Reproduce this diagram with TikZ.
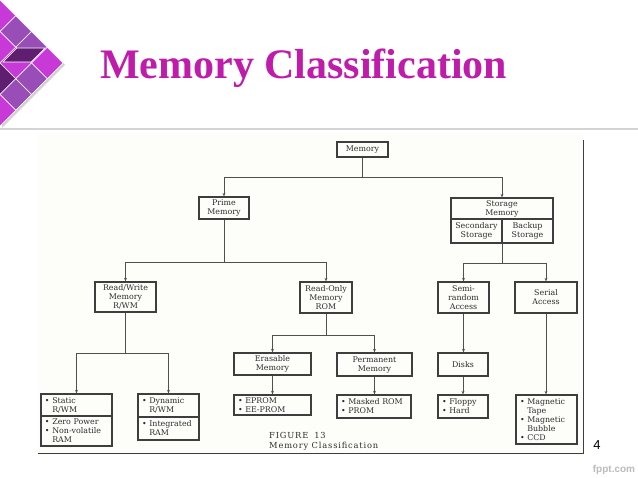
\documentclass[tikz,border=0pt]{standalone}
\usepackage{fontspec}
\setmainfont{DejaVu Serif}
\newfontfamily\titlefont{Liberation Serif}
\newfontfamily\sansf{Liberation Sans}
\usetikzlibrary{arrows.meta}
\definecolor{titlec}{RGB}{192,28,172}
\definecolor{magc}{RGB}{200,58,216}
\definecolor{medc}{RGB}{152,78,182}
\definecolor{darkc}{RGB}{96,30,112}
\definecolor{sepc}{RGB}{212,212,212}
\definecolor{scanbg}{RGB}{253,253,250}
\definecolor{boxc}{RGB}{62,62,62}
\definecolor{linec}{RGB}{80,80,80}
\definecolor{txtc}{RGB}{45,45,45}
\definecolor{fpptc}{RGB}{188,188,188}
\newcommand{\mybul}{\textbullet\ }
\newcommand{\myind}{\hphantom{\textbullet\ }}
\begin{document}
\begin{tikzpicture}[x=1pt,y=-1pt,
  box/.style={draw=boxc, line width=1.2pt, inner sep=0pt, align=center,
    font=\fontsize{7.9}{9}\selectfont, text=txtc},
  lbox/.style={box, align=left, inner xsep=4pt},
  conn/.style={draw=linec, line width=0.85pt},
  arr/.style={conn, -{Stealth[length=3.5pt,width=2.8pt]}},
  tile/.style={draw=white, line width=0.7pt}]
\useasboundingbox (0,0) rectangle (638,478);
\fill[white] (0,0) rectangle (638,478);
% decorative diamond
\fill[black!18] (2,2) -- (65,65) -- (2,128) -- cycle;
\foreach \i/\j/\c in {0/0/magc,1/0/medc,2/0/medc,3/0/magc,1/1/magc,2/1/magc,3/1/medc,2/2/darkc,3/2/medc,3/3/magc,0/1/magc,1/2/medc,2/3/darkc}{
  \filldraw[tile, fill=\c] ({15.75*(\i-\j)},{15.75*(\i+\j)}) -- ({15.75*(\i+1-\j)},{15.75*(\i+1+\j)})
    -- ({15.75*(\i-\j)},{15.75*(\i+2+\j)}) -- ({15.75*(\i-\j-1)},{15.75*(\i+1+\j)}) -- cycle;
}
\filldraw[tile, fill=darkc] (3,62) -- (17,48) -- (45,48) -- (31,62) -- cycle;
% title
\node[anchor=base west, inner sep=0pt, font=\titlefont\bfseries\fontsize{42}{42}\selectfont, text=titlec] (title) at (100,79) {Memory Classification};
\draw[line width=1.5pt, sepc] (0,129) -- (638,129);
% scanned figure
\fill[scanbg] (38,133) rectangle (584,455);
\draw[line width=1.6pt, boxc] (583.5,140) -- (583.5,454);
\draw[line width=1.6pt, boxc] (38,453.5) -- (584.3,453.5);

\node[box, minimum width=51pt, minimum height=15pt] (mem) at (362.5,149.5) {Memory};
\node[box, minimum width=50pt, minimum height=22pt] (prime) at (224,208) {Prime\\Memory};
\node[box, minimum width=102pt, minimum height=21pt] (stTop) at (502,208.5) {Storage\\Memory};
\node[box, minimum width=51pt, minimum height=24pt] (stSec) at (476.5,231) {Secondary\\Storage};
\node[box, minimum width=51pt, minimum height=24pt] (stBak) at (527.5,231) {Backup\\Storage};
\node[box, minimum width=61pt, minimum height=30pt] (rw) at (125.5,297) {Read/Write\\Memory\\R/WM};
\node[box, minimum width=52pt, minimum height=31pt] (rom) at (326,297.5) {Read-Only\\Memory\\ROM};
\node[box, minimum width=51pt, minimum height=31pt] (semi) at (463.5,297.5) {Semi-\\random\\Access};
\node[box, minimum width=62pt, minimum height=31pt] (serial) at (546,297.5) {Serial\\Access};

\node[lbox, text width=63pt, minimum height=22pt] (sttop) at (76.5,405) {\mybul Static\\\myind R/WM};
\node[lbox, text width=63pt, minimum height=30pt] (stbot) at (76.5,431) {\mybul Zero Power\\\mybul Non-volatile\\\myind RAM};
\node[lbox, text width=53pt, minimum height=23pt] (dyntop) at (168.5,405.5) {\mybul Dynamic\\\myind R/WM};
\node[lbox, text width=53pt, minimum height=23pt] (dynbot) at (168.5,428.5) {\mybul Integrated\\\myind RAM};
\node[box, minimum width=77pt, minimum height=22pt] (eras) at (272.5,364) {Erasable\\Memory};
\node[lbox, text width=69pt, minimum height=20pt] (eprom) at (272.5,405) {\mybul EPROM\\\mybul EE-PROM};
\node[box, minimum width=75pt, minimum height=23pt] (perm) at (374.5,364.5) {Permanent\\Memory};
\node[lbox, text width=66pt, minimum height=23pt] (masked) at (374,406.5) {\mybul Masked ROM\\\mybul PROM};
\node[box, minimum width=50pt, minimum height=23pt] (disks) at (463,364.5) {Disks};
\node[lbox, text width=42pt, minimum height=23pt] (floppy) at (463,406.5) {\mybul Floppy\\\mybul Hard};
\node[lbox, text width=53pt, minimum height=49pt] (magn) at (546.5,419.5) {\mybul Magnetic\\\myind Tape\\\mybul Magnetic\\\myind Bubble\\\mybul CCD};

\coordinate (b1) at (0,177);
\coordinate (b2) at (0,262);
\coordinate (b3) at (0,263);
\coordinate (b4) at (0,353);
\coordinate (b5) at (0,335);
\draw[arr] (mem.south) -- (mem.south |- b1) -| (prime.north);
\draw[arr] (mem.south |- b1) -| (stTop.north);
\draw[arr] (prime.south) -- (prime.south |- b2) -| (rw.north);
\draw[arr] (prime.south |- b2) -| (rom.north);
\draw[arr] (stSec.south east) -- (stSec.south east |- b3) -| (semi.north);
\draw[arr] (stSec.south east |- b3) -| (serial.north);
\draw[arr] (rw.south) -- (rw.south |- b4) -| (sttop.north);
\draw[arr] (rw.south |- b4) -| (dyntop.north);
\draw[arr] (rom.south) -- (rom.south |- b5) -| (eras.north);
\draw[arr] (rom.south |- b5) -| (perm.north);
\draw[arr] (semi.south) -- (semi.south |- disks.north);
\draw[arr] (disks.south) -- (floppy.north);
\draw[arr] (eras.south) -- (eprom.north);
\draw[arr] (perm.south) -- (perm.south |- masked.north);
\draw[arr] (serial.south) -- (serial.south |- magn.north);

\node[anchor=north west, align=left, inner sep=0pt, text=txtc,
  font=\addfontfeature{LetterSpace=10}\fontsize{8.3}{10}\selectfont] (cap) at (269,432) {FIGURE\hspace{6pt}13\\Memory Classification};
\node[font=\sansf\fontsize{13}{13}\selectfont] (pg) at (597,445) {4};
\node[font=\sansf\bfseries\fontsize{10}{10}\selectfont, text=fpptc] (fp) at (614,470) {fppt.com};
\end{tikzpicture}
\end{document}
